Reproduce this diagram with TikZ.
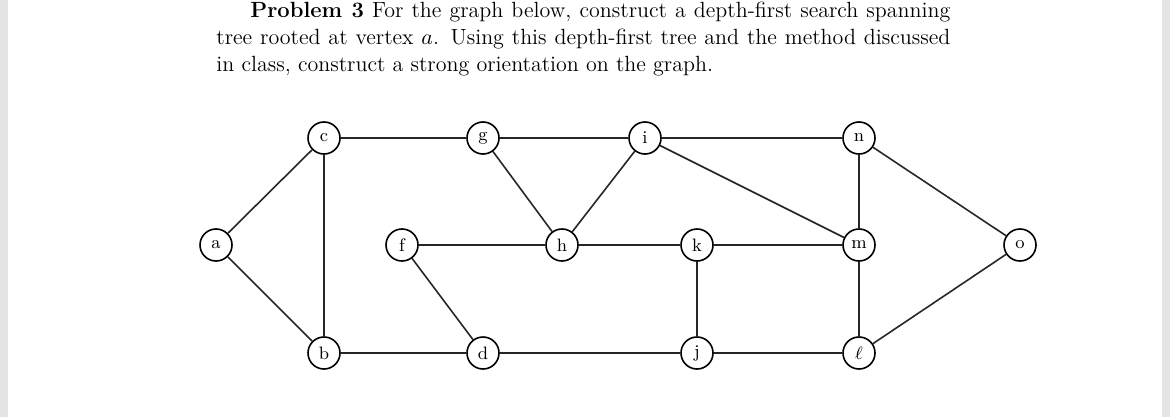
\documentclass[tikz,border=0pt]{standalone}
\begin{document}
\begin{tikzpicture}[x=0.5pt,y=-0.5pt,
  vtx/.style={circle,draw,thick,minimum size=16pt,inner sep=0pt,font=\small,fill=white},
  edge/.style={thick,black!85}]
\useasboundingbox (0,0) rectangle (1170,417);
\fill[black!10] (0,0) rectangle (8,417);
\fill[black!10] (1162,0) rectangle (1170,417);
\node[anchor=north west,inner sep=0pt,text width=367pt,align=justify,font=\fontsize{11}{13.5}\selectfont] (txt) at (216,2)
{\hspace*{17pt}\textbf{Problem 3} For the graph below, construct a depth-first search spanning tree rooted at vertex $a$. Using this depth-first tree and the method discussed in class, construct a strong orientation on the graph.};
\node[vtx] (a) at (216,245) {a};
\node[vtx] (c) at (324,138) {c};
\node[vtx] (g) at (483,138) {g};
\node[vtx] (i) at (645,138) {i};
\node[vtx] (n) at (859,138) {n};
\node[vtx] (f) at (402,245) {f};
\node[vtx] (h) at (562,245) {h};
\node[vtx] (k) at (697,245) {k};
\node[vtx] (m) at (859,245) {m};
\node[vtx] (o) at (1020,245) {o};
\node[vtx] (b) at (324,353) {b};
\node[vtx] (d) at (483,353) {d};
\node[vtx] (j) at (697,353) {j};
\node[vtx] (l) at (859,353) {$\ell$};
\foreach \u/\v in {a/c,a/b,c/b,c/g,g/i,i/n,g/h,h/i,i/m,n/m,n/o,f/h,h/k,k/m,f/d,b/d,d/j,j/l,k/j,m/l,l/o}
  \draw[edge] (\u) -- (\v);
\end{tikzpicture}
\end{document}
